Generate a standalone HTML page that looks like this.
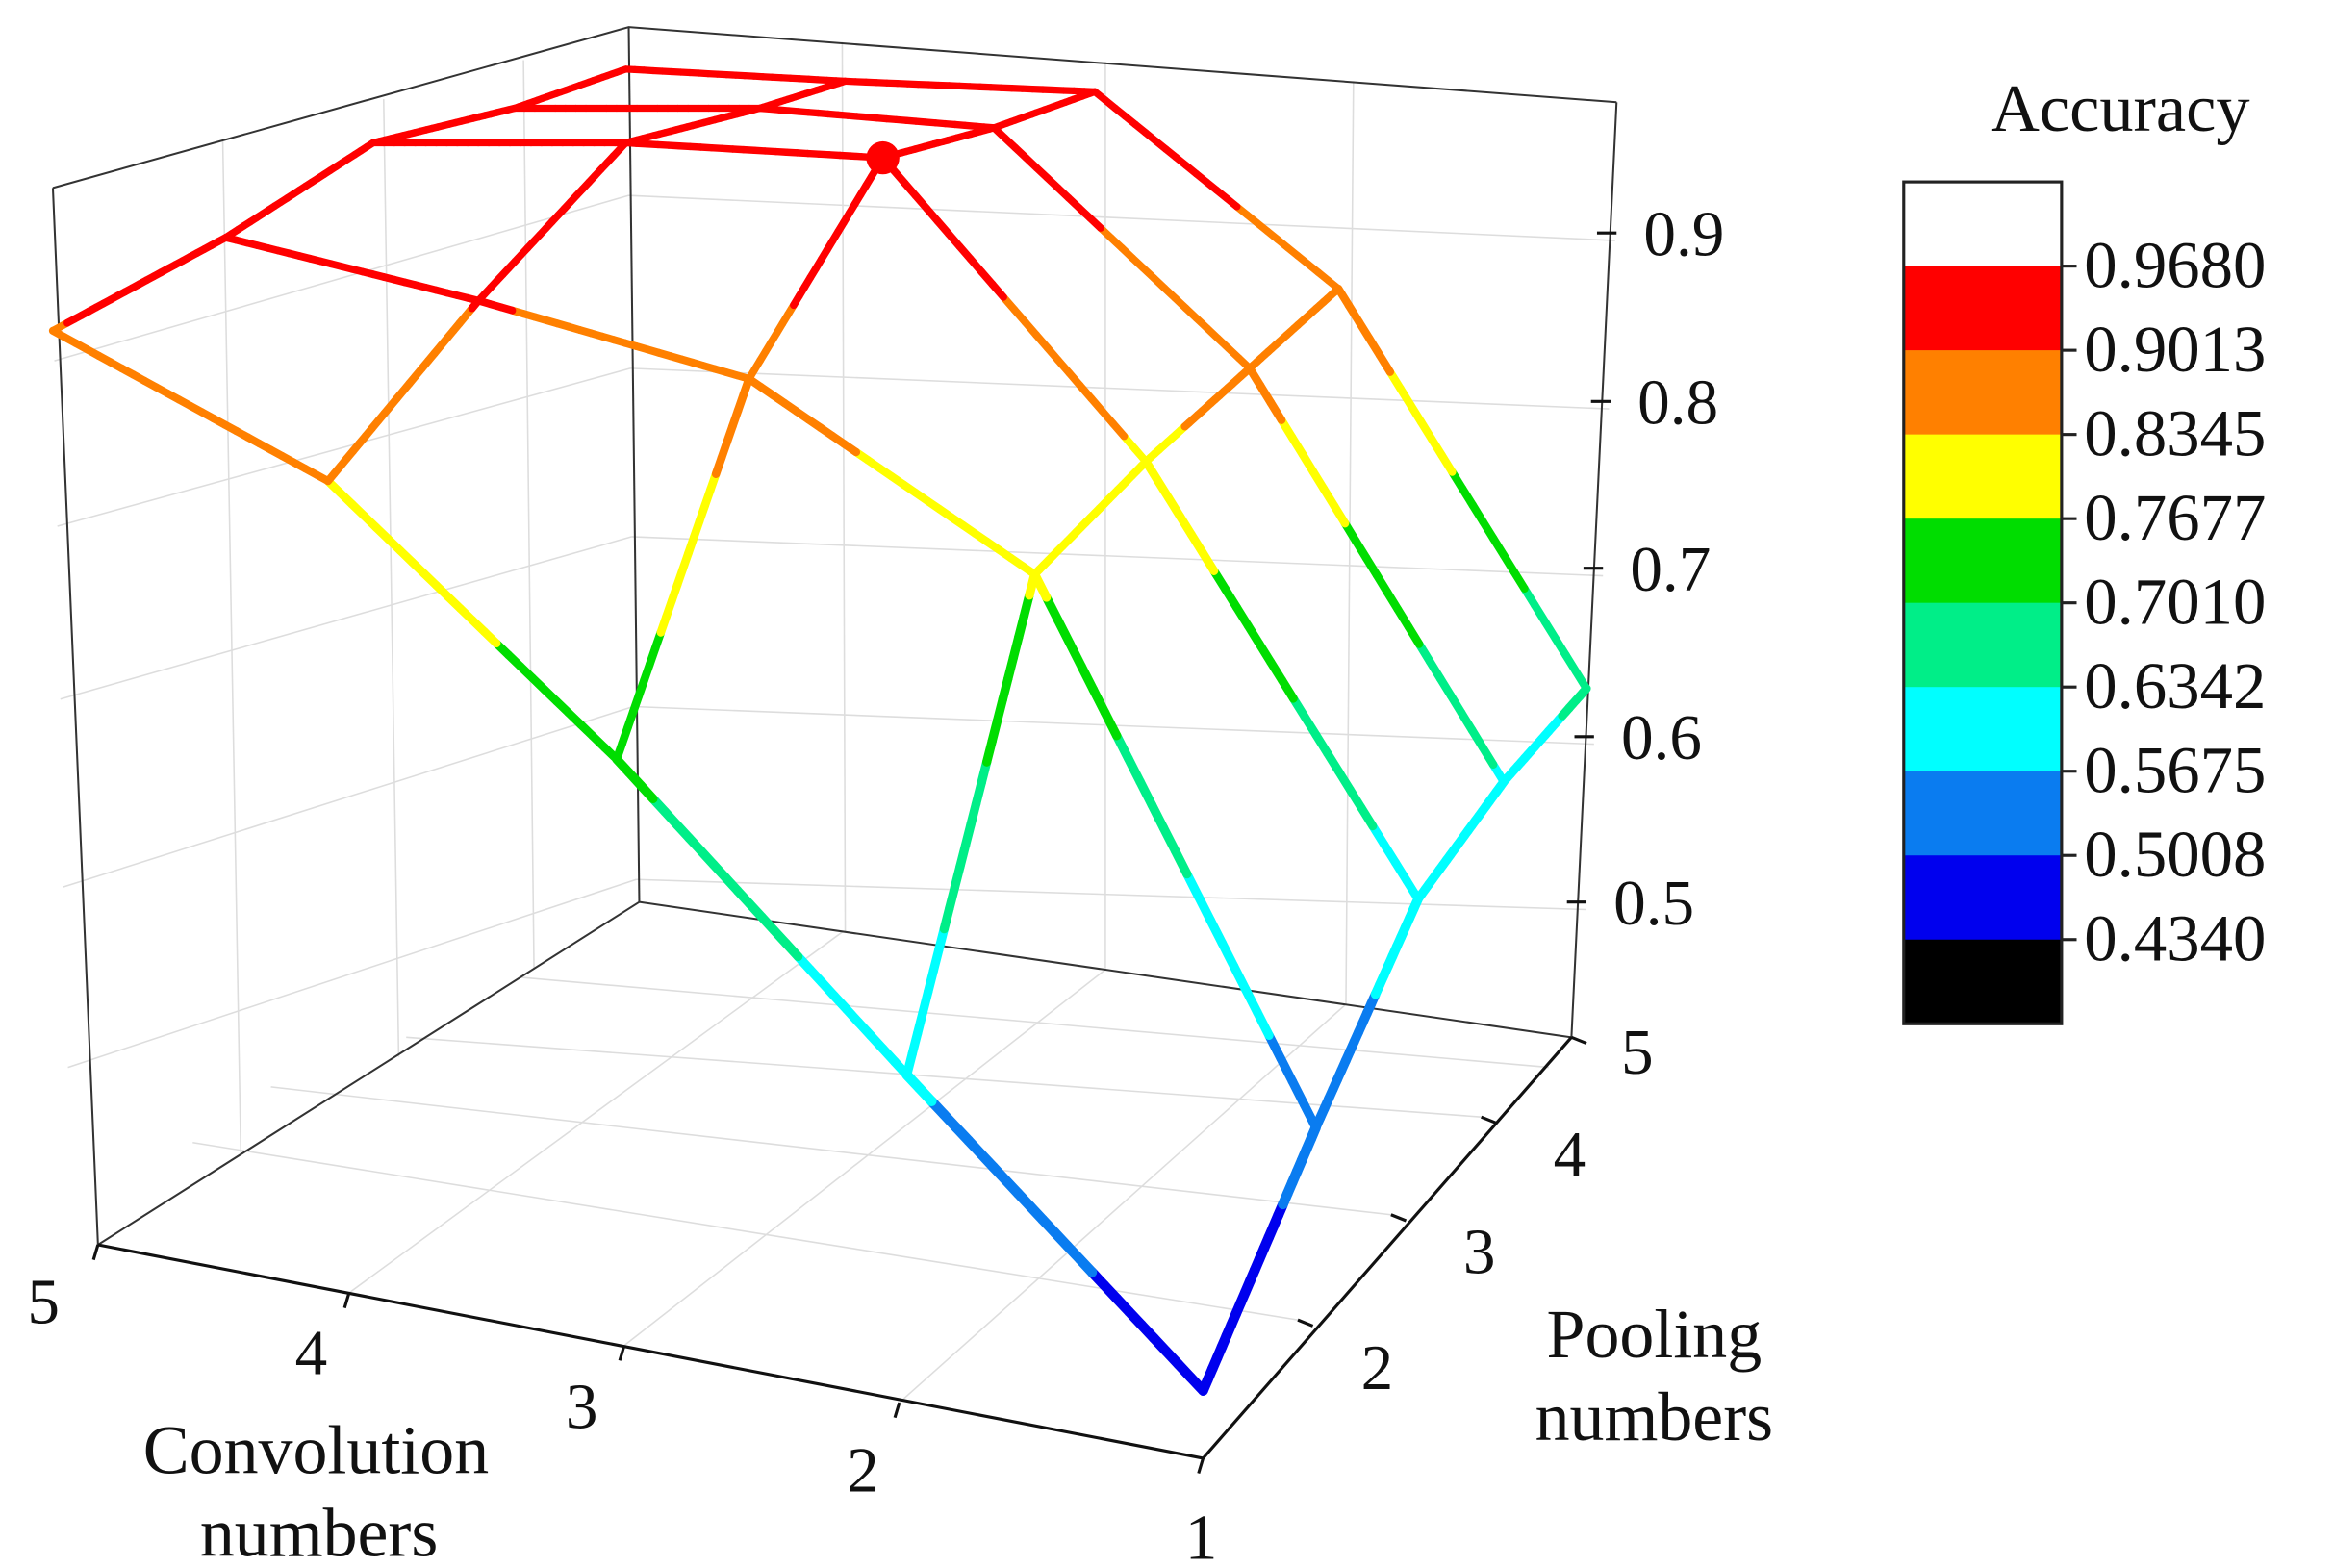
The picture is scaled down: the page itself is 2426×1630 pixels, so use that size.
<!DOCTYPE html>
<html><head><meta charset="utf-8"><style>
html,body{margin:0;padding:0;background:#fff;width:2426px;height:1630px;overflow:hidden}
svg{display:block}
text{font-family:"Liberation Serif",serif;fill:#111}
</style></head><body>
<svg id="s" width="2426" height="1630" viewBox="0 0 1552 1043" xmlns="http://www.w3.org/2000/svg">
<g stroke="#ddd" stroke-width="1" fill="none">
<line x1="148" y1="94" x2="160" y2="768"/>
<line x1="255" y1="66" x2="265" y2="703"/>
<line x1="348" y1="40" x2="355" y2="645"/>
<line x1="36" y1="240" x2="418" y2="130"/>
<line x1="38" y1="350" x2="419" y2="245"/>
<line x1="40" y1="465" x2="420" y2="357"/>
<line x1="42" y1="590" x2="421" y2="470"/>
<line x1="45" y1="710" x2="423" y2="585"/>
<line x1="560" y1="28" x2="562" y2="620"/>
<line x1="735" y1="41" x2="735" y2="645"/>
<line x1="900" y1="54" x2="895" y2="668"/>
<line x1="418" y1="130" x2="1074" y2="160"/>
<line x1="419" y1="245" x2="1070" y2="272"/>
<line x1="420" y1="357" x2="1066" y2="383"/>
<line x1="421" y1="470" x2="1060" y2="495"/>
<line x1="423" y1="585" x2="1055" y2="605"/>
<line x1="232" y1="860" x2="560" y2="620"/>
<line x1="415" y1="895" x2="735" y2="645"/>
<line x1="598" y1="933" x2="895" y2="668"/>
<line x1="128" y1="760" x2="863" y2="878"/>
<line x1="180" y1="723" x2="925" y2="808"/>
<line x1="270" y1="690" x2="985" y2="743"/>
<line x1="345" y1="650" x2="1030" y2="710"/>
</g>
<g stroke="#333" stroke-width="1.3" fill="none">
<polyline points="35,125 418,18 1075,68"/>
<line x1="35" y1="125" x2="65" y2="828"/>
<line x1="418" y1="18" x2="425" y2="600"/>
<line x1="425" y1="600" x2="65" y2="828"/>
<line x1="425" y1="600" x2="1045" y2="690"/>
<line x1="1075" y1="68" x2="1045" y2="690"/>
</g>
<g stroke="#111" stroke-width="2" fill="none">
<line x1="65" y1="828" x2="800" y2="970"/>
<line x1="800" y1="970" x2="1045" y2="690"/>
<line x1="1075" y1="155" x2="1062" y2="155"/>
<line x1="1071" y1="267" x2="1058" y2="267"/>
<line x1="1066" y1="378" x2="1053" y2="378"/>
<line x1="1060" y1="490" x2="1047" y2="490"/>
<line x1="1055" y1="600" x2="1042" y2="600"/>
<line x1="65" y1="828" x2="62" y2="838"/>
<line x1="232" y1="860" x2="229" y2="870"/>
<line x1="415" y1="895" x2="412" y2="905"/>
<line x1="598" y1="933" x2="595" y2="943"/>
<line x1="800" y1="970" x2="797" y2="980"/>
<line x1="863" y1="878" x2="873" y2="882"/>
<line x1="925" y1="808" x2="935" y2="812"/>
<line x1="985" y1="743" x2="995" y2="747"/>
<line x1="1045" y1="690" x2="1055" y2="694"/>
</g>
<g id="surf" fill="none"></g>
<circle cx="587" cy="105" r="11" fill="#f00"/>
<g font-size="43">
<text x="1093" y="170">0.9</text>
<text x="1089" y="282">0.8</text>
<text x="1084" y="393">0.7</text>
<text x="1078" y="505">0.6</text>
<text x="1073" y="615">0.5</text>
<text x="1078" y="714">5</text>
<text x="1033" y="782">4</text>
<text x="973" y="847">3</text>
<text x="905" y="924">2</text>
<text x="18" y="880">5</text>
<text x="196" y="914">4</text>
<text x="376" y="950">3</text>
<text x="563" y="992">2</text>
<text x="788" y="1037">1</text>
<text x="210" y="980" text-anchor="middle" font-size="46">Convolution</text>
<text x="212" y="1035" text-anchor="middle" font-size="46">numbers</text>
<text x="1100" y="903" text-anchor="middle" font-size="46">Pooling</text>
<text x="1100" y="958" text-anchor="middle" font-size="46">numbers</text>
<text x="1410" y="87" text-anchor="middle" font-size="45">Accuracy</text>
</g>
<g id="cb"></g>
</svg>
<script>
var P={
1:[[800,925],[875,750],[943,598],[1000,520],[1055,458]],
2:[[603,715],[688,382],[762,307],[831,245],[890,192]],
3:[[410,505],[498,252],[587,105],[661,85],[728,61]],
4:[[218,320],[318,200],[416,95],[505,72],[562,54]],
5:[[35,220],[150,158],[248,95],[342,72],[416,46]]};
var V={1:[.45,.52,.60,.62,.64],2:[.58,.78,.82,.86,.88],3:[.72,.87,.968,.93,.93],4:[.835,.905,.93,.93,.93],5:[.90,.92,.93,.93,.93]};
var bands=[.434,.5008,.5675,.6342,.701,.7677,.8345,.9013,.968];
var cols=["#0000ee","#0a7cf0","#00ffff","#00ee88","#00dd00","#ffff00","#ff8000","#ff0000","#ff0000"];
function col(v){for(var i=bands.length-1;i>=0;i--)if(v>=bands[i])return cols[i];return "#0000aa";}
var g=document.getElementById("surf"),h="";
function seg(a,b,va,vb){var n=24;for(var k=0;k<n;k++){var t0=k/n,t1=(k+1)/n,tm=(k+.5)/n;
var w=4.5+2.5*((a[1]+b[1])/2)/925;
h+='<line x1="'+(a[0]+(b[0]-a[0])*t0)+'" y1="'+(a[1]+(b[1]-a[1])*t0)+'" x2="'+(a[0]+(b[0]-a[0])*t1)+'" y2="'+(a[1]+(b[1]-a[1])*t1)+'" stroke="'+col(va+(vb-va)*tm)+'" stroke-width="'+w.toFixed(2)+'" stroke-linecap="round"/>';}}
for(var c=1;c<=5;c++)for(var p=0;p<5;p++){
 if(p<4)seg(P[c][p],P[c][p+1],V[c][p],V[c][p+1]);
 if(c<5)seg(P[c][p],P[c+1][p],V[c][p],V[c+1][p]);}
g.innerHTML=h;
var cb=document.getElementById("cb"),s="";
var bc=["#ffffff","#ff0000","#ff8000","#ffff00","#00dd00","#00ee88","#00ffff","#0a7cf0","#0000ee","#000000"];
var labs=["0.9680","0.9013","0.8345","0.7677","0.7010","0.6342","0.5675","0.5008","0.4340"];
for(var i=0;i<10;i++){var y=121+i*56;s+='<rect x="1266" y="'+y+'" width="105" height="56.2" fill="'+bc[i]+'"/>';}
s+='<rect x="1266" y="121" width="105" height="560" fill="none" stroke="#222" stroke-width="2"/>';
for(var i=0;i<9;i++){var y=177+i*56;s+='<line x1="1371" y1="'+y+'" x2="1381" y2="'+y+'" stroke="#222" stroke-width="2"/><text x="1386" y="'+(y+14)+'" font-size="44">'+labs[i]+'</text>';}
cb.innerHTML=s;
</script>
</body></html>
